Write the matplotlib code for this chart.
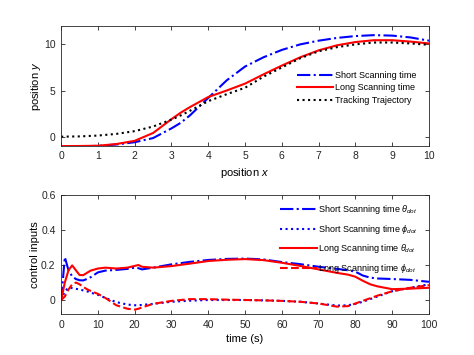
import matplotlib
matplotlib.use('Agg')
import matplotlib.pyplot as plt

plt.rcParams['font.family'] = ['Liberation Sans', 'DejaVu Sans']
plt.rcParams['mathtext.fontset'] = 'custom'
plt.rcParams['mathtext.rm'] = 'Liberation Sans'
plt.rcParams['mathtext.it'] = 'Liberation Sans:italic'

# top panel: trajectories in the x-y plane
pos_x = [0, 0.5, 1, 1.5, 2, 2.5, 3, 3.25, 3.5, 4, 4.5, 5, 5.5, 6, 6.5, 7, 7.5, 8, 8.5, 9, 9.5, 10]
short_y = [-1.05, -1.04, -1.0, -0.85, -0.6, -0.15, 0.9, 1.5, 2.3, 4.2, 6.1, 7.6, 8.6, 9.4, 10.0, 10.4, 10.7, 10.9, 11.0, 10.95, 10.75, 10.4]
long_y = [-1.02, -1.01, -0.98, -0.8, -0.45, 0.4, 1.9, 2.6, 3.2, 4.3, 5.0, 5.75, 6.75, 7.7, 8.6, 9.35, 9.9, 10.25, 10.45, 10.45, 10.3, 10.1]
track_y = [0.0, 0.03, 0.12, 0.3, 0.6, 1.1, 1.85, 2.3, 2.8, 3.85, 4.6, 5.3, 6.5, 7.5, 8.5, 9.25, 9.7, 10.0, 10.2, 10.2, 10.1, 9.95]

# bottom panel: control inputs over time
t = [0, 1, 2, 3, 4, 5, 6, 7, 8, 10, 12, 15, 18, 20, 21, 22, 25, 30, 35, 40, 45, 50, 55, 60, 65, 70, 75, 78, 80, 82, 84, 86, 90, 95, 100]
short_theta = [0.0, 0.245, 0.17, 0.135, 0.12, 0.113, 0.112, 0.12, 0.13, 0.158, 0.168, 0.172, 0.178, 0.185, 0.182, 0.175, 0.185, 0.204, 0.218, 0.229, 0.235, 0.237, 0.232, 0.217, 0.205, 0.19, 0.178, 0.17, 0.162, 0.14, 0.128, 0.123, 0.12, 0.115, 0.104]
short_phi = [0.0, 0.05, 0.07, 0.068, 0.064, 0.06, 0.055, 0.05, 0.042, 0.03, 0.012, -0.012, -0.026, -0.03, -0.03, -0.028, -0.022, -0.01, -0.004, 0.0, 0.0, 0.0, -0.002, -0.005, -0.01, -0.02, -0.032, -0.03, -0.022, -0.01, 0.005, 0.02, 0.05, 0.07, 0.09]
long_theta = [0.0, 0.1, 0.17, 0.198, 0.17, 0.143, 0.142, 0.155, 0.168, 0.18, 0.185, 0.18, 0.185, 0.195, 0.2, 0.19, 0.185, 0.194, 0.208, 0.223, 0.23, 0.234, 0.228, 0.213, 0.195, 0.175, 0.155, 0.145, 0.133, 0.11, 0.09, 0.078, 0.062, 0.065, 0.07]
long_phi = [0.0, 0.02, 0.06, 0.09, 0.1, 0.09, 0.075, 0.062, 0.052, 0.035, 0.012, -0.03, -0.05, -0.055, -0.05, -0.042, -0.022, -0.005, 0.005, 0.005, 0.002, 0.0, -0.002, -0.005, -0.01, -0.02, -0.038, -0.035, -0.02, -0.005, 0.01, 0.025, 0.05, 0.07, 0.085]

axis_col = '#262626'

fig = plt.figure(figsize=(4.74, 3.55), dpi=100)
ax1 = fig.add_axes([0.129, 0.589, 0.776, 0.338])
ax2 = fig.add_axes([0.129, 0.1155, 0.776, 0.335])

ax1.plot(pos_x, short_y, color='#0000ff', ls='-.', lw=1.5, label='Short Scanning time')
ax1.plot(pos_x, long_y, color='#ff0000', ls='-', lw=1.5, label='Long Scanning time')
ax1.plot(pos_x, track_y, color='black', ls=':', lw=1.5, label='Tracking Trajectory')
ax1.set_xlim(0, 10)
ax1.set_ylim(-1, 12)
ax1.set_xticks(range(0, 11))
ax1.set_yticks([0, 5, 10])
ax1.set_xlabel('position $x$', fontsize=8, labelpad=3)
ax1.set_ylabel('position $y$', fontsize=8, labelpad=0.5)
ax1.legend(loc='upper right', bbox_to_anchor=(0.965, 0.625), frameon=False, fontsize=6.5,
           handlelength=4.0, handletextpad=0.2, labelspacing=0.38, borderpad=0, borderaxespad=0)

ax2.plot(t, short_theta, color='#0000ff', ls='-.', lw=1.5, label=r'Short Scanning time $\theta_{dot}$')
ax2.plot(t, short_phi, color='#0000ff', ls=':', lw=1.5, label=r'Short Scanning time $\phi_{dot}$')
ax2.plot(t, long_theta, color='#ff0000', ls='-', lw=1.5, label=r'Long Scanning time $\theta_{dot}$')
ax2.plot(t, long_phi, color='#ff0000', ls='--', lw=1.5, label=r'Long Scanning time $\phi_{dot}$')
ax2.set_xlim(0, 100)
ax2.set_ylim(-0.08, 0.6)
ax2.set_xticks(range(0, 101, 10))
ax2.set_yticks([0, 0.2, 0.4, 0.6])
ax2.set_yticklabels(['0', '0.2', '0.4', '0.6'])
ax2.set_xlabel('time (s)', fontsize=8, labelpad=3)
ax2.set_ylabel('control inputs', fontsize=8, labelpad=0.5)
ax2.legend(loc='upper right', bbox_to_anchor=(0.97, 0.93), frameon=False, fontsize=6.5,
           handlelength=4.0, handletextpad=0.2, labelspacing=0.72, borderpad=0, borderaxespad=0)

for ax in (ax1, ax2):
    ax.tick_params(direction='in', top=True, right=True, labelsize=7.5, colors=axis_col,
                   length=3, width=0.6, pad=4)
    for s in ax.spines.values():
        s.set_color(axis_col)
        s.set_linewidth(0.6)

fig.savefig('out.png', dpi=100)
